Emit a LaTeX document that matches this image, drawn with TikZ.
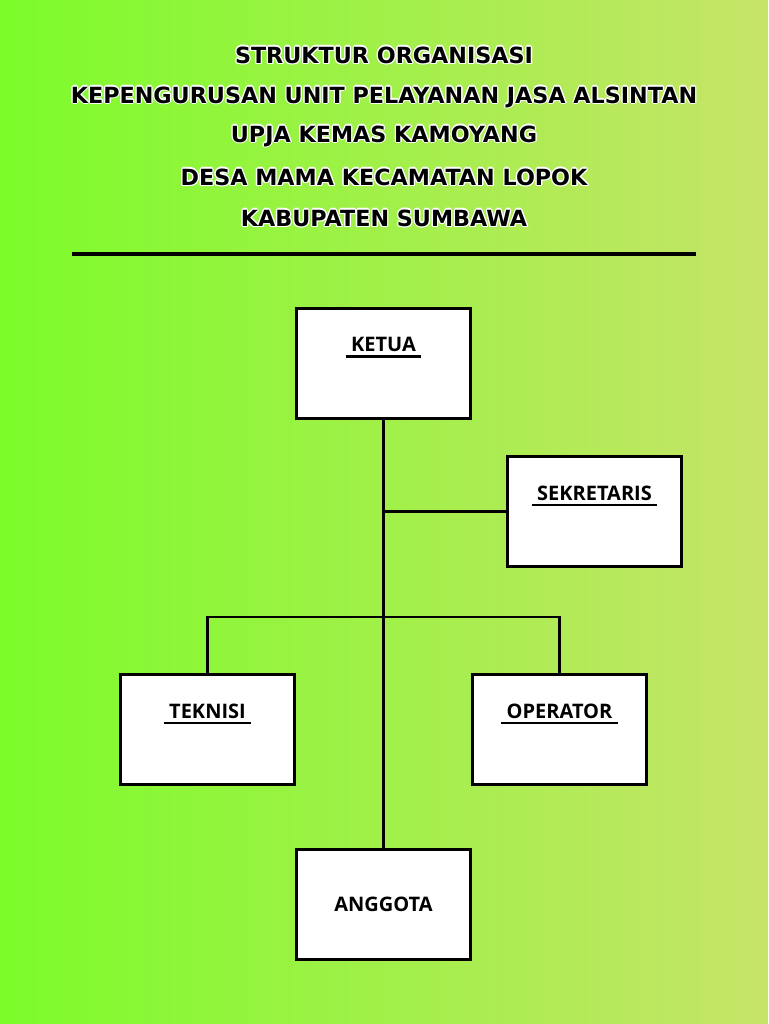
\documentclass[tikz,border=0pt]{standalone}
\usepackage{fontspec}
\setmainfont{Open Sans}
\newfontfamily\titlefont{DejaVu Sans}
\usetikzlibrary{positioning}
\definecolor{LeftGreen}{RGB}{124,252,42}
\definecolor{RightGreen}{RGB}{198,228,104}
\tikzset{
  unitbox/.style={draw, line width=2.2pt, fill=white, minimum width=130pt, minimum height=83pt},
  unitlabel/.style={font=\bfseries\fontsize{15}{17}\selectfont, inner xsep=4pt, inner ysep=3pt},
  titleline/.style={font=\titlefont\bfseries\fontsize{16.7}{20}\selectfont},
  link/.style={line width=1.7pt}
}
\newcommand{\titletext}[3]{%
  \foreach \dx/\dy in {-1/0,1/0,0/-1,0/1,-0.7/-0.7,0.7/0.7,-0.7/0.7,0.7/-0.7}
    \node[titleline, white] at ([shift={(\dx pt,\dy pt)}]#1) {#3};
  \node[titleline] (#2) at (#1) {#3};}
\newcommand{\unitname}[2]{%
  \node[unitlabel, below=20pt of #1.north] (#1-label) {#2};
  \draw[line width=1.6pt] (#1-label.south west) -- (#1-label.south east);}
\begin{document}
\begin{tikzpicture}[x=0.75pt, y=-0.75pt]
  % background
  \shade[left color=LeftGreen, right color=RightGreen] (0,0) rectangle (768,1024);
  \useasboundingbox (0,0) rectangle (768,1024);

  % title
  \titletext{384,55}{title1}{STRUKTUR ORGANISASI}
  \titletext{384,97}{title2}{KEPENGURUSAN UNIT PELAYANAN JASA ALSINTAN}
  \titletext{384,136}{title3}{UPJA KEMAS KAMOYANG}
  \titletext{384,177}{title4}{DESA MAMA KECAMATAN LOPOK}
  \titletext{384,218}{title5}{KABUPATEN SUMBAWA}
  \draw[line width=3pt] (72,254) -- (696,254);

  % boxes
  \node[unitbox] (ketua) at (383.5,363.5) {};
  \node[unitbox] (sekretaris) at (594.5,511.5) {};
  \node[unitbox] (teknisi) at (207.5,729.5) {};
  \node[unitbox] (operator) at (559.5,729.5) {};
  \node[unitbox] (anggota) at (383.5,904.5) {};

  \unitname{ketua}{KETUA}
  \unitname{sekretaris}{SEKRETARIS}
  \unitname{teknisi}{TEKNISI}
  \unitname{operator}{OPERATOR}
  \node[unitlabel] (anggota-label) at (anggota) {ANGGOTA};

  % connectors
  \coordinate (spine) at (ketua.south |- sekretaris.west);
  \coordinate (branch) at (ketua.south |- 0,617);
  \draw[link] (ketua.south) -- (anggota.north);
  \draw[link] (spine) -- (sekretaris.west);
  \draw[link] (teknisi.north) |- (branch) -| (operator.north);
\end{tikzpicture}
\end{document}
